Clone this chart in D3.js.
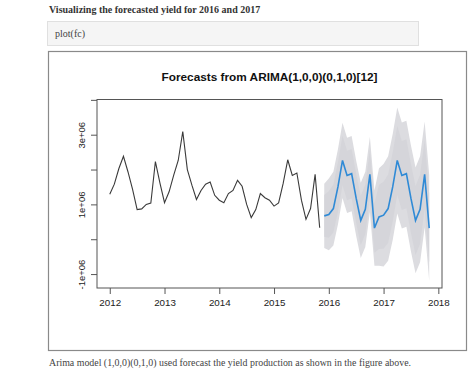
<!DOCTYPE html>
<html><head><meta charset="utf-8">
<script src="https://cdn.jsdelivr.net/npm/d3@7"></script>
<style>body{margin:0;background:#fff}svg{display:block}</style>
</head><body><svg id="c" width="474" height="372"></svg>
<script>
// ---- data ----
const pageTitle = "Visualizing the forecasted yield for 2016 and 2017";
const codeText = "plot(fc)";
const chartTitle = "Forecasts from ARIMA(1,0,0)(0,1,0)[12]";
const caption = "Arima model (1,0,0)(0,1,0) used forecast the yield production as shown in the figure above.";

const histStart = 2012;            // Jan 2012, monthly
const histValues = [
  1.29e6,1.58e6,2.03e6,2.38e6,1.93e6,1.43e6,0.85e6,0.87e6,1.00e6,1.04e6,2.23e6,1.61e6,
  1.05e6,1.36e6,1.83e6,2.26e6,3.09e6,2.00e6,1.55e6,1.14e6,1.40e6,1.58e6,1.64e6,1.26e6,
  1.12e6,1.05e6,1.31e6,1.40e6,1.69e6,1.52e6,1.00e6,0.62e6,0.85e6,1.31e6,1.19e6,1.12e6,
  0.95e6,1.04e6,1.60e6,2.28e6,1.83e6,1.90e6,1.12e6,0.57e6,0.88e6,1.86e6,0.33e6
];
const fcStart = 2015 + 11/12;      // Dec 2015, monthly
const fcMean = [
  0.67e6,0.71e6,0.88e6,1.50e6,2.26e6,1.83e6,1.88e6,1.17e6,0.54e6,0.86e6,1.86e6,0.32e6,
  0.64e6,0.69e6,0.88e6,1.50e6,2.26e6,1.83e6,1.88e6,1.17e6,0.54e6,0.86e6,1.86e6,0.32e6
];
const fcHi95 = [
  1.59e6,1.74e6,1.94e6,2.58e6,3.34e6,2.91e6,2.96e6,2.25e6,1.62e6,1.94e6,2.94e6,1.40e6,
  2.04e6,2.16e6,2.38e6,3.02e6,3.78e6,3.35e6,3.40e6,2.69e6,2.06e6,2.38e6,3.38e6,1.84e6
];
const fcLo95 = [
  -0.25e6,-0.32e6,-0.18e6,0.42e6,1.18e6,0.75e6,0.80e6,0.09e6,-0.54e6,-0.22e6,0.78e6,-0.76e6,
  -0.76e6,-0.78e6,-0.62e6,-0.02e6,0.74e6,0.31e6,0.36e6,-0.35e6,-0.98e6,-0.66e6,0.34e6,-1.20e6
];
const fcHi80 = [
  1.27e6,1.38e6,1.57e6,2.21e6,2.97e6,2.54e6,2.59e6,1.88e6,1.25e6,1.57e6,2.57e6,1.03e6,
  1.56e6,1.65e6,1.86e6,2.49e6,3.25e6,2.82e6,2.87e6,2.16e6,1.53e6,1.85e6,2.85e6,1.31e6
];
const fcLo80 = [
  0.07e6,0.04e6,0.19e6,0.79e6,1.55e6,1.12e6,1.17e6,0.46e6,-0.17e6,0.15e6,1.15e6,-0.39e6,
  -0.28e6,-0.27e6,-0.10e6,0.51e6,1.27e6,0.84e6,0.89e6,0.18e6,-0.45e6,-0.13e6,0.87e6,-0.67e6
];
const xTicks = [2012,2013,2014,2015,2016,2017,2018];
const yTicks = [-1e6,0,1e6,2e6,3e6,4e6];
const yTickLabels = ["-1e+06","","1e+06","","3e+06",""];

// ---- drawing ----
const svg = d3.select("#c");
svg.append("rect").attr("width",474).attr("height",372).attr("fill","#fff");

svg.append("text").text(pageTitle)
  .attr("x",49).attr("y",13)
  .attr("font-family","'Liberation Serif', 'Times New Roman', serif")
  .attr("font-weight","bold").attr("font-size",10).attr("fill","#333");

svg.append("rect").attr("x",47.5).attr("y",21.5).attr("width",371).attr("height",24)
  .attr("fill","#f5f5f5").attr("stroke","#e0e0e0");
svg.append("text").text(codeText).attr("x",55).attr("y",37)
  .attr("font-family","'Liberation Serif', 'Times New Roman', serif")
  .attr("font-size",10).attr("fill","#444");

svg.append("rect").attr("x",48.5).attr("y",51.5).attr("width",418).attr("height",299)
  .attr("fill","#fff").attr("stroke","#8a8a8a").attr("stroke-width",1.2);

svg.append("text").text(caption).attr("x",49).attr("y",366)
  .attr("font-family","'Liberation Serif', 'Times New Roman', serif")
  .attr("font-size",9.9).attr("fill","#444");

const L = 97, R = 442, T = 99.5, B = 288;
const x = d3.scaleLinear().domain([2011.767, 2018.067]).range([L, R]);
const y = d3.scaleLinear().domain([-1.40e6, 4.01e6]).range([B, T]);

const g = svg.append("g");
g.append("text").text(chartTitle).attr("x",269.5).attr("y",81)
  .attr("text-anchor","middle")
  .attr("font-family","'Liberation Sans', Arial, sans-serif")
  .attr("font-weight","bold").attr("font-size",11.8).attr("fill","#111");

const fcT = fcMean.map((d,i)=>fcStart + i/12);
const idx = d3.range(fcMean.length);
const area = (lo,hi)=>d3.area().x(i=>x(fcT[i])).y0(i=>y(lo[i])).y1(i=>y(hi[i]));
g.append("path").datum(idx).attr("d",area(fcLo95,fcHi95)).attr("fill","#dcdce0");
g.append("path").datum(idx).attr("d",area(fcLo80,fcHi80)).attr("fill","#d5d5da");

const histLine = d3.line().x((d,i)=>x(histStart + i/12)).y(d=>y(d));
g.append("path").datum(histValues).attr("d",histLine)
  .attr("fill","none").attr("stroke","#3a3a3a").attr("stroke-width",1.1);

const fcLine = d3.line().x((d,i)=>x(fcT[i])).y(d=>y(d));
g.append("path").datum(fcMean).attr("d",fcLine)
  .attr("fill","none").attr("stroke","#2f8ad6").attr("stroke-width",1.6);

// box
g.append("rect").attr("x",L).attr("y",T).attr("width",R-L).attr("height",B-T)
  .attr("fill","none").attr("stroke","#555").attr("stroke-width",1);

const xAxis = d3.axisBottom(x).tickValues(xTicks).tickFormat(d3.format("d"))
  .tickSizeInner(6).tickSizeOuter(0).tickPadding(5);
const gx = g.append("g").attr("transform",`translate(0,${B})`).call(xAxis);
gx.select(".domain").remove();
gx.selectAll("line").attr("stroke","#555");
gx.selectAll("text").attr("font-family","'Liberation Sans', Arial, sans-serif")
  .attr("font-size",9.8).attr("fill","#222");

const yAxis = d3.axisLeft(y).tickValues(yTicks).tickFormat((d,i)=>yTickLabels[i])
  .tickSizeInner(6).tickSizeOuter(0).tickPadding(0);
const gy = g.append("g").attr("transform",`translate(${L},0)`).call(yAxis);
gy.select(".domain").remove();
gy.selectAll("line").attr("stroke","#555");
gy.selectAll("text")
  .attr("x",0).attr("dy",0)
  .attr("transform","translate(-12,0) rotate(-90)")
  .attr("text-anchor","middle")
  .attr("font-family","'Liberation Sans', Arial, sans-serif")
  .attr("font-size",9.5).attr("fill","#222");
</script></body></html>
